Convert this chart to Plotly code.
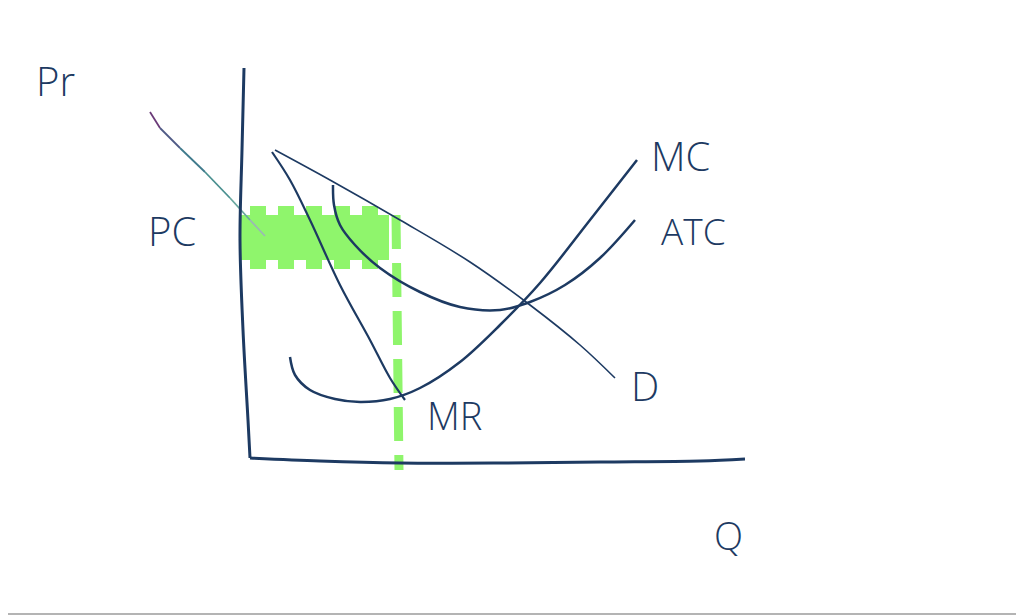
import plotly.graph_objects as go

# ---- data (Q, P units; origin at axes corner) ----
v_axis_q = [-0.6, -0.8, -1.0, -0.7, -0.2, 0.0]
v_axis_p = [39.2, 31.0, 22.0, 13.0, 4.0, 0.2]
h_axis_q = [0, 7, 15, 25, 35, 45, 49.5]
h_axis_p = [0.2, -0.1, -0.3, -0.3, -0.2, -0.1, 0.1]

d_q = [2.5, 8, 15, 22, 28, 33, 36.5]
d_p = [31, 28, 24, 19.8, 15.5, 11.5, 8.2]

mr_q = [2.2, 4, 6, 9, 12, 14, 15.5]
mr_p = [30.8, 28, 24, 17.5, 12, 8.2, 6]

atc_q = [8.3, 8.4, 9, 10.5, 13, 17, 21, 25, 28, 31.5, 35, 38.5]
atc_p = [27.5, 25.5, 23.5, 21.5, 19.2, 16.8, 15.3, 15, 15.8, 17.5, 20.2, 24]

mc_q = [4, 4.5, 6, 8.5, 11, 14, 17, 21, 25, 29, 34, 38.7]
mc_p = [10.3, 8.5, 7, 6.1, 5.8, 6.1, 7.2, 9.8, 13.5, 17.7, 24, 30]

pc_q = [-10, -9, -7, -4.5, -2, 0, 1.5]
pc_p = [34.8, 33.2, 31.2, 28.8, 26.2, 24, 22.4]
pc_colors = ["#6a3a78", "#4f5a86", "#3f7a8c", "#4a9090", "#6aa8a0", "#9ab8b4"]

hl_rows_p = [23.3, 21.2]
hl_q = [0.8, 3.6, 6.4, 9.2, 12.0]
vq_line_q = [14.6, 14.9]
vq_line_p = [24.5, -1.0]

labels = ["Pr", "PC", "MC", "ATC", "D", "MR", "Q"]
label_q = [-19.5, -7.8, 43.0, 44.3, 39.5, 20.4, 47.8]
label_p = [38.0, 23.0, 30.5, 23.0, 7.5, 4.5, -7.5]
label_size = [40, 40, 40, 37, 40, 38, 38]

NAVY = "#1d3a62"
GREEN = "#8ff56c"

fig = go.Figure()

# green highlight band (blocky)
for pr in hl_rows_p:
    fig.add_trace(go.Scatter(x=[-0.9, 13.9], y=[pr, pr], mode="lines",
                             line=dict(color=GREEN, width=24), hoverinfo="skip"))
    fig.add_trace(go.Scatter(x=hl_q, y=[pr + (1.3 if pr > 22 else -1.3)] * len(hl_q),
                             mode="markers",
                             marker=dict(symbol="square", size=16, color=GREEN),
                             hoverinfo="skip"))
fig.add_trace(go.Scatter(x=vq_line_q, y=vq_line_p, mode="lines",
                         line=dict(color=GREEN, width=9, dash="34px,14px"),
                         hoverinfo="skip"))

# PC gradient line
for i in range(len(pc_q) - 1):
    fig.add_trace(go.Scatter(x=pc_q[i:i + 2], y=pc_p[i:i + 2], mode="lines",
                             line=dict(color=pc_colors[i], width=1.8), hoverinfo="skip"))

# axes
fig.add_trace(go.Scatter(x=v_axis_q, y=v_axis_p, mode="lines",
                         line=dict(color=NAVY, width=3, shape="spline")))
fig.add_trace(go.Scatter(x=h_axis_q, y=h_axis_p, mode="lines",
                         line=dict(color=NAVY, width=3, shape="spline")))
# curves
fig.add_trace(go.Scatter(x=d_q, y=d_p, mode="lines",
                         line=dict(color=NAVY, width=1.6, shape="spline")))
fig.add_trace(go.Scatter(x=mr_q, y=mr_p, mode="lines",
                         line=dict(color=NAVY, width=2.2, shape="spline")))
fig.add_trace(go.Scatter(x=atc_q, y=atc_p, mode="lines",
                         line=dict(color=NAVY, width=2.5, shape="spline")))
fig.add_trace(go.Scatter(x=mc_q, y=mc_p, mode="lines",
                         line=dict(color=NAVY, width=2.5, shape="spline")))

for t, q, p, s in zip(labels, label_q, label_p, label_size):
    fig.add_annotation(x=q, y=p, text=t, showarrow=False,
                       font=dict(family="Open Sans", size=s, color=NAVY, weight=300),
                       xanchor="center", yanchor="middle")

fig.add_shape(type="line", xref="paper", yref="paper", x0=0, x1=1,
              y0=0.0162, y1=0.0162, line=dict(color="#b4b4b4", width=2))

fig.update_layout(
    width=1024, height=616,
    margin=dict(l=0, r=0, t=0, b=0),
    paper_bgcolor="white", plot_bgcolor="white",
    showlegend=False,
    xaxis=dict(range=[-24.2, 78.2], visible=False),
    yaxis=dict(range=[-16.4, 45.2], visible=False),
)

fig.write_html("out.html")
